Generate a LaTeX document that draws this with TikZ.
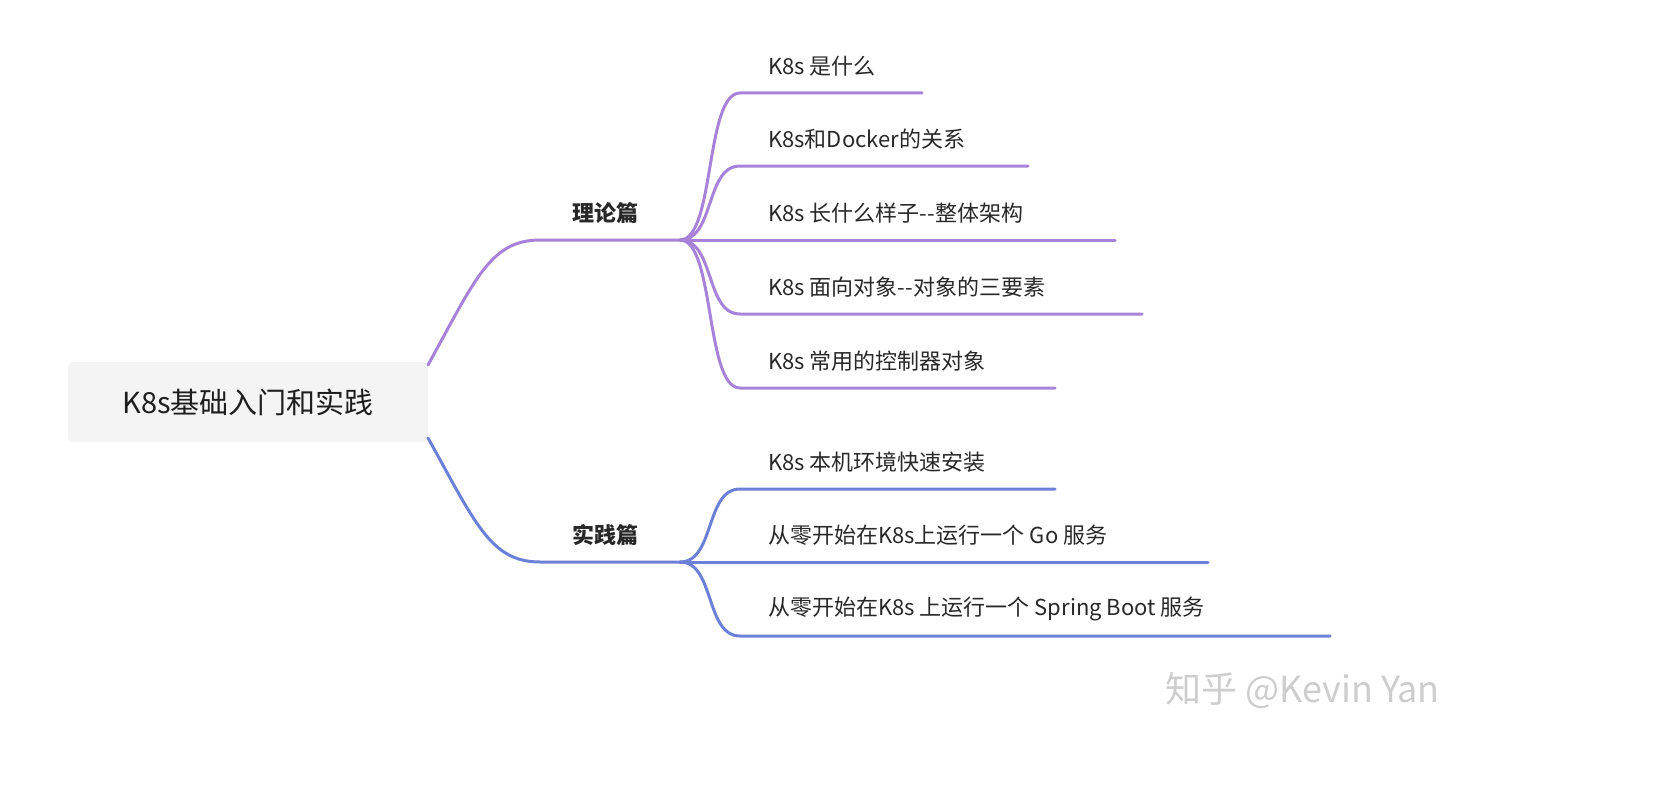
\documentclass[tikz,border=0pt]{standalone}
\usepackage{fontspec}
\setmainfont{Noto Sans CJK SC}
\begin{document}
\begin{tikzpicture}[x=1pt,y=-1pt,
 pu/.style={draw={rgb,255:red,168;green,130;blue,216},line width=3pt,line cap=round},
 bl/.style={draw={rgb,255:red,108;green,128;blue,216},line width=3pt,line cap=round},
 lf/.style={anchor=west,font=\fontsize{22}{26}\selectfont,text={rgb,255:red,40;green,40;blue,40},inner sep=0},
 mid/.style={font=\bfseries\fontsize{22}{26}\selectfont,text={rgb,255:red,40;green,40;blue,40},inner sep=0}]
\useasboundingbox (0,0) rectangle (1658,792);
\node[fill={rgb,255:red,244;green,244;blue,244},rounded corners=4pt,minimum width=360pt,minimum height=80pt,font=\fontsize{29}{34}\selectfont,text={rgb,255:red,30;green,30;blue,30}] (root) at (248,402) {K8s基础入门和实践};
\coordinate (p0) at (428,365); \coordinate (p1) at (540,240); \coordinate (p2) at (680,240);
\coordinate (b0) at (428,438); \coordinate (b1) at (540,562); \coordinate (b2) at (680,562);
\draw[pu] (p0) .. controls (475,280) and (490,240) .. (p1) -- (p2);
\draw[bl] (b0) .. controls (475,522) and (490,562) .. (b1) -- (b2);
\node[mid] (t1) at (605,213) {理论篇};
\node[mid] (t2) at (605,535) {实践篇};
\foreach \y/\e/\t [count=\i] in {93/922/K8s 是什么,166/1028/K8s和Docker的关系,240/1115/K8s 长什么样子{-}{-}整体架构,314/1142/K8s 面向对象{-}{-}对象的三要素,388/1055/K8s 常用的控制器对象}{
 \coordinate (pe\i) at (\e,\y);
 \draw[pu] (p2) .. controls (715,240) and (705,\y) .. (740,\y) -- (pe\i);
 \node[lf] (pl\i) at (768,\y-27) {\t};
}
\foreach \y/\e/\t [count=\i] in {489/1055/K8s 本机环境快速安装,562/1208/从零开始在K8s上运行一个 Go 服务,636/1330/从零开始在K8s 上运行一个 Spring Boot 服务}{
 \coordinate (be\i) at (\e,\y);
 \draw[bl] (b2) .. controls (715,562) and (705,\y) .. (740,\y) -- (be\i);
 \node[lf] (bl\i) at (768,\y-27) {\t};
}
\node[anchor=west,font=\fontsize{36}{40}\selectfont,text={rgb,255:red,205;green,205;blue,205},inner sep=0] (wm) at (1165,690) {知乎 @Kevin Yan};
\end{tikzpicture}
\end{document}
